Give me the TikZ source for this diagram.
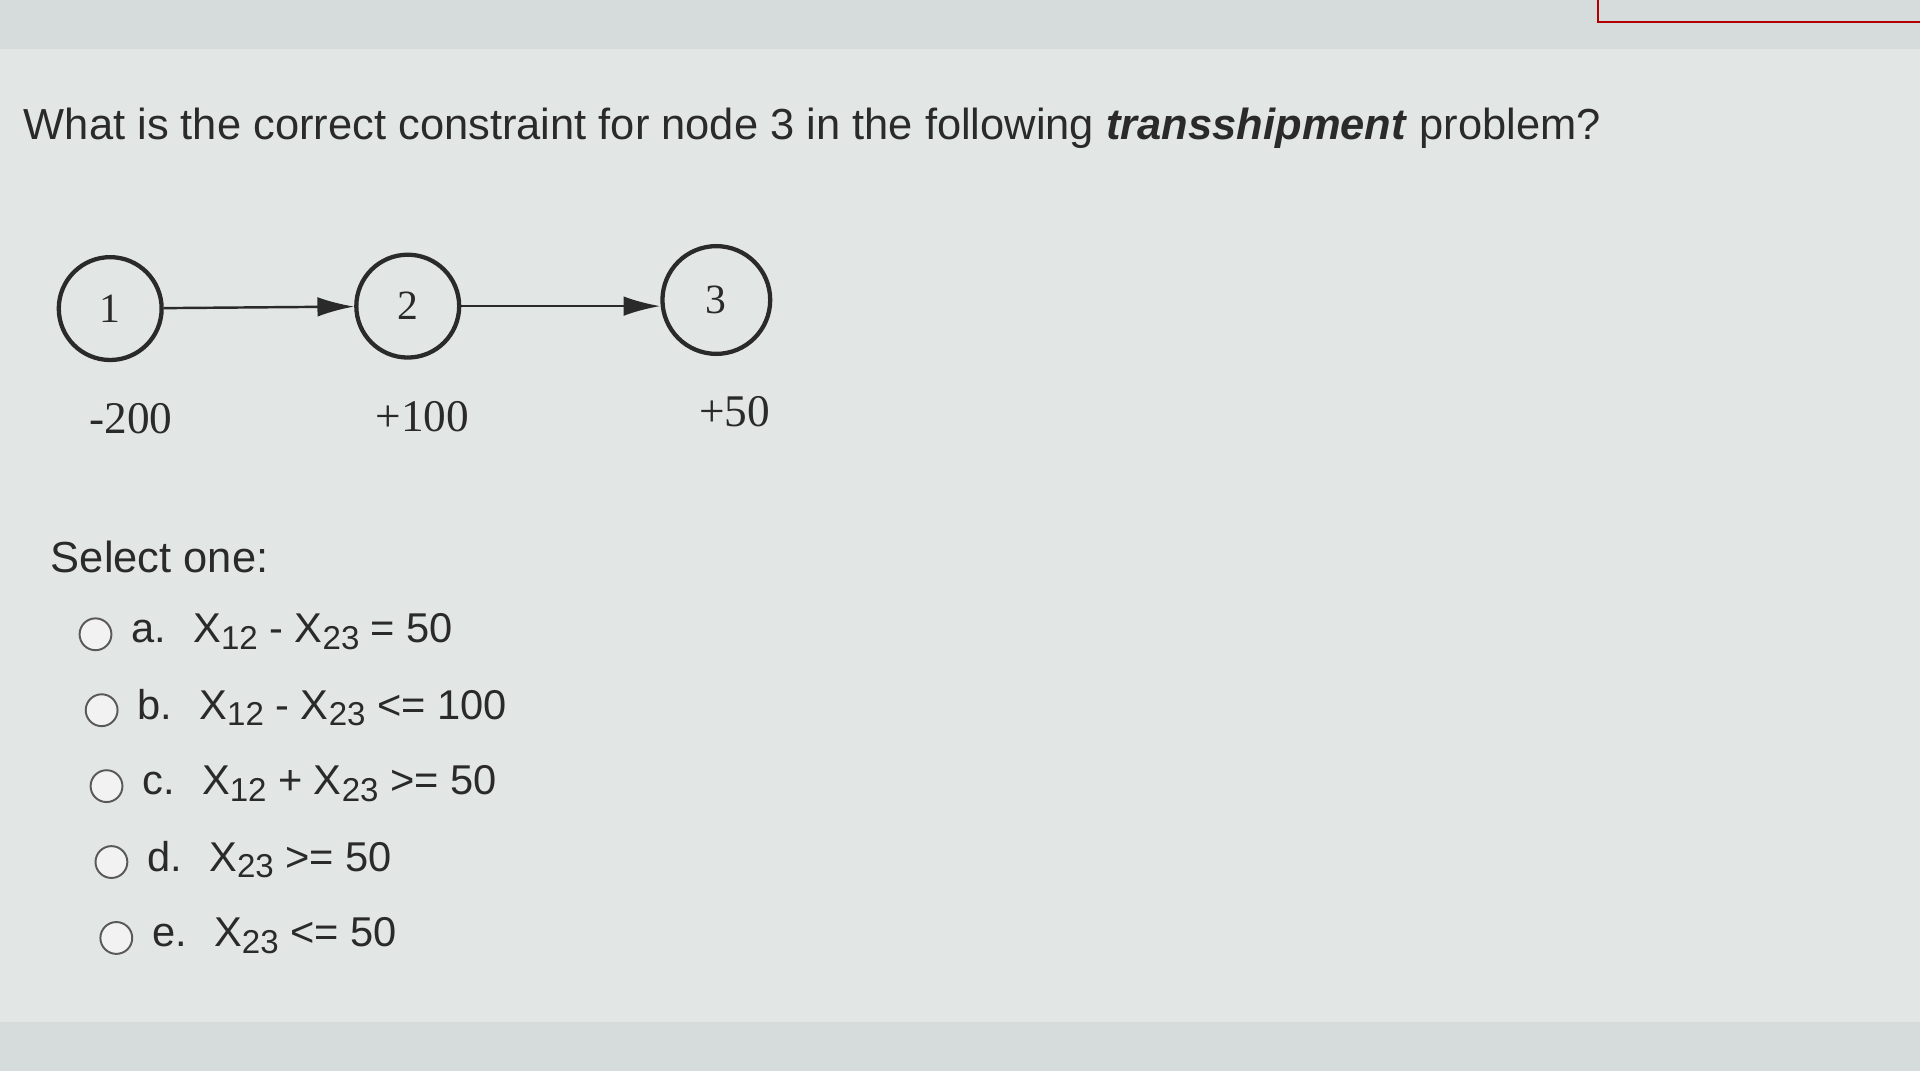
\documentclass[tikz,border=0pt]{standalone}
\usepackage{fontspec}
\setmainfont{Liberation Sans}
\newfontfamily\serifnum{Liberation Serif}
\usetikzlibrary{arrows.meta}
\definecolor{bgc}{HTML}{D6DCDB}
\definecolor{panel}{HTML}{E2E7E6}
\definecolor{ink}{HTML}{2A2A2A}
\newcommand{\sbs}[1]{\raisebox{-0.3ex}{\fontsize{27}{27}\selectfont #1}}
\tikzset{
 nd/.style={circle,draw=ink,line width=3.5pt,minimum size=84pt,inner sep=0pt,font=\serifnum\fontsize{34}{34}\selectfont,text=ink},
 lab/.style={font=\serifnum\fontsize{37}{37}\selectfont,text=ink},
 arr/.style={draw=ink,line width=2pt,-{Latex[length=30pt,width=16pt]}},
 txt/.style={font=\fontsize{35.5}{35.5}\selectfont,text=ink,anchor=west},
 opt/.style={font=\fontsize{34}{34}\selectfont,text=ink,anchor=west},
 radio/.style={circle,draw=gray!70!black,line width=1.6pt,minimum size=26pt,inner sep=0pt,fill=white!90!gray}
}
\begin{document}
\begin{tikzpicture}[x=1pt,y=-1pt]
\useasboundingbox (0,0) rectangle (1568,875);
\fill[bgc] (0,0) rectangle (1568,875);
\fill[panel] (0,40) rectangle (1568,835);
\draw[red!70!black,line width=1.2pt] (1305,0) -- (1305,18) -- (1568,18);
\node[txt] (title) at (16,105) {What is the correct constraint for node 3 in the following \textbf{\textit{transshipment}} problem?};
\node[nd] (n1) at (90,252) {1};
\node[nd] (n2) at (333,250) {2};
\node[nd,minimum size=88pt] (n3) at (585,245) {3};
\draw[arr] (n1) -- (n2);
\draw[arr] (n2) -- (n3.west|-n2);
\node[lab] (l1) at (107,342) {-200};
\node[lab] (l2) at (345,340) {+100};
\node[lab] (l3) at (600,336) {+50};
\node[txt] (sel) at (38,455) {Select one:};
\node[radio] (r1) at (78,518) {};
\node[opt] (o1) at (104,516) {a.\hspace{22pt}X\sbs{12} - X\sbs{23} = 50};
\node[radio] (r2) at (83,580) {};
\node[opt] (o2) at (109,578) {b.\hspace{22pt}X\sbs{12} - X\sbs{23} <= 100};
\node[radio] (r3) at (87,642) {};
\node[opt] (o3) at (113,640) {c.\hspace{22pt}X\sbs{12} + X\sbs{23} >= 50};
\node[radio] (r4) at (91,704) {};
\node[opt] (o4) at (117,702) {d.\hspace{22pt}X\sbs{23} >= 50};
\node[radio] (r5) at (95,766) {};
\node[opt] (o5) at (121,764) {e.\hspace{22pt}X\sbs{23} <= 50};
\end{tikzpicture}
\end{document}
